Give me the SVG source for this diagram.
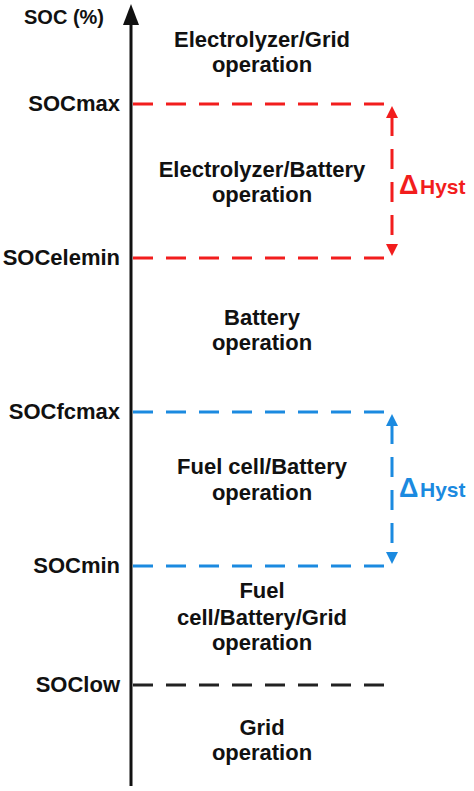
<svg xmlns="http://www.w3.org/2000/svg" width="474" height="791" viewBox="0 0 474 791">
<style>
text{font-family:"Liberation Sans",Arial,sans-serif;font-weight:bold;font-size:22px;fill:#111}
.lbl{text-anchor:end}
.mid{text-anchor:middle}
.d{stroke-width:3;stroke-dasharray:20 13;fill:none}
.red{stroke:#f21d1d}
.blue{stroke:#1b8ae0}
.blk{stroke:#222}
</style>
<g id="axis">
<line x1="131" y1="786" x2="131" y2="22" stroke="#111" stroke-width="3"/>
<path d="M123,25 L131,4 L139,25 z" fill="#111"/>
<text x="24" y="24" style="font-size:20px">SOC (%)</text>
</g>
<g id="connectors">
<path class="d red" d="M133,104 H388"/>
<path class="d red" d="M133,258 H388"/>
<path class="d blue" d="M133,412 H388"/>
<path class="d blue" d="M133,566 H388"/>
<path class="d blk" d="M133,685 H388"/>
<path class="d red" d="M392,116 V246" stroke-dasharray="16 10"/>
<path d="M386,118 L392,106 L398,118 z" fill="#f21d1d"/>
<path d="M386,244 L392,256 L398,244 z" fill="#f21d1d"/>
<path class="d blue" d="M392,424 V554" stroke-dasharray="16 10"/>
<path d="M386,426 L392,414 L398,426 z" fill="#1b8ae0"/>
<path d="M386,552 L392,564 L398,552 z" fill="#1b8ae0"/>
</g>
<g id="labels">
<text class="lbl" x="120" y="111">SOCmax</text>
<text class="lbl" x="120" y="265">SOCelemin</text>
<text class="lbl" x="120" y="419">SOCfcmax</text>
<text class="lbl" x="120" y="573">SOCmin</text>
<text class="lbl" x="120" y="692">SOClow</text>
</g>
<g id="hyst-red"><text x="399" y="194" style="fill:#f21d1d;font-size:27px">Δ</text><text x="420" y="194" style="fill:#f21d1d;font-size:21px">Hyst</text></g>
<g id="hyst-blue"><text x="399" y="497" style="fill:#1b8ae0;font-size:27px">Δ</text><text x="420" y="497" style="fill:#1b8ae0;font-size:21px">Hyst</text></g>
<g id="n1"><text class="mid" x="262" y="47">Electrolyzer/Grid</text><text class="mid" x="262" y="72">operation</text></g>
<g id="n2"><text class="mid" x="262" y="177">Electrolyzer/Battery</text><text class="mid" x="262" y="202">operation</text></g>
<g id="n3"><text class="mid" x="262" y="325">Battery</text><text class="mid" x="262" y="350">operation</text></g>
<g id="n4"><text class="mid" x="262" y="474">Fuel cell/Battery</text><text class="mid" x="262" y="500">operation</text></g>
<g id="n5"><text class="mid" x="262" y="598">Fuel</text><text class="mid" x="262" y="625">cell/Battery/Grid</text><text class="mid" x="262" y="650">operation</text></g>
<g id="n6"><text class="mid" x="262" y="735">Grid</text><text class="mid" x="262" y="760">operation</text></g>
</svg>
